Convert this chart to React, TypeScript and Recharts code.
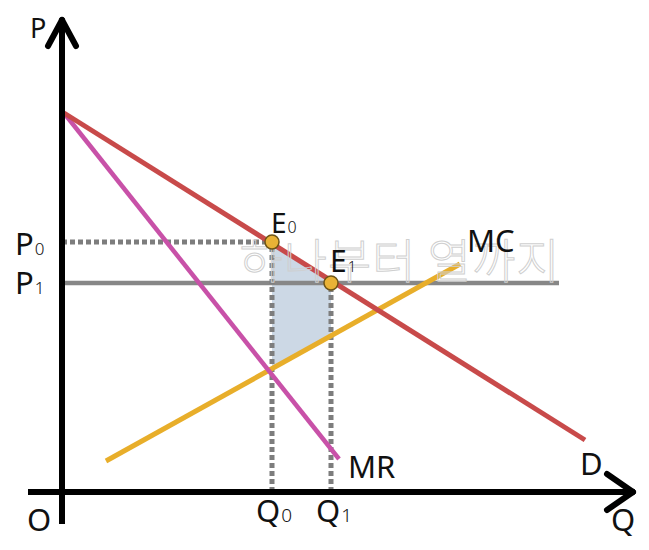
import React from "react";
import { ComposedChart, Line, Area, XAxis, YAxis, ReferenceDot, ReferenceLine } from "recharts";

// Quantity (Q) / Price (P) in diagram units
const Q0 = 21.0;
const Q1 = 26.9;
const P0 = 25.0;
const P1 = 20.9;
const MC_AT_Q0 = 12.3;
const MC_AT_Q1 = 15.6;

const demandLine = [{ q: 0.2, p: 37.9 }, { q: 52.3, p: 5.2 }];
const mrLine = [{ q: 0.2, p: 37.9 }, { q: 27.7, p: 3.3 }];
const mcLine = [{ q: 4.4, p: 3.1 }, { q: 39.8, p: 22.8 }];
const p1Line = [{ q: 0, p: P1 }, { q: 49.7, p: P1 }];
const p0Dotted = [{ q: 0, p: P0 }, { q: Q0, p: P0 }];
const q0Dotted = [{ q: Q0, p: 0 }, { q: Q0, p: P0 }];
const q1Dotted = [{ q: Q1, p: 0 }, { q: Q1, p: P1 }];
const lossArea = [
  { q: Q0, range: [MC_AT_Q0, P0] },
  { q: Q1, range: [MC_AT_Q1, P1] },
];

// axes with chevron arrowheads: [from, to] segments
const axisSegments = [
  [{ x: -3.4, y: 0 }, { x: 57.0, y: 0 }],
  [{ x: 0, y: -3.2 }, { x: 0, y: 47.1 }],
  [{ x: 54.5, y: 1.8 }, { x: 57.1, y: 0 }],
  [{ x: 54.5, y: -1.8 }, { x: 57.1, y: 0 }],
  [{ x: -1.4, y: 44.6 }, { x: 0, y: 47.2 }],
  [{ x: 1.4, y: 44.6 }, { x: 0, y: 47.2 }],
];

const equilibria = [
  { q: Q0, p: P0 },
  { q: Q1, p: P1 },
];

type Lbl = { q: number; p: number; main: string; sub?: string; size: number; subSize?: number };
const labels: Lbl[] = [
  { q: -3.2, p: 45.4, main: "P", size: 27 },
  { q: -4.7, p: 23.7, main: "P", sub: "0", size: 31, subSize: 17 },
  { q: -4.7, p: 19.8, main: "P", sub: "1", size: 31, subSize: 17 },
  { q: -3.5, p: -3.9, main: "O", size: 31 },
  { q: 54.9, p: -3.9, main: "Q", size: 31 },
  { q: 19.4, p: -3.0, main: "Q", sub: "0", size: 31, subSize: 19 },
  { q: 25.4, p: -3.0, main: "Q", sub: "1", size: 31, subSize: 19 },
  { q: 28.6, p: 1.4, main: "MR", size: 31 },
  { q: 51.8, p: 1.7, main: "D", size: 31 },
  { q: 40.5, p: 24.0, main: "MC", size: 31 },
  { q: 20.9, p: 25.9, main: "E", sub: "0", size: 28, subSize: 16 },
  { q: 26.8, p: 22.0, main: "E", sub: "1", size: 30, subSize: 15 },
];

const watermark = { q: 33.8, p: 21.4, text: "하나부터 열까지" };

const FONT = "'Noto Sans', 'DejaVu Sans', sans-serif";

const makeLabel = (l: Lbl) => (props: any) => {
  const vb = props.viewBox || {};
  return (
    <text x={vb.x} y={vb.y} fontFamily={FONT} fontSize={l.size} fill="#111">
      <tspan>{l.main}</tspan>
      {l.sub ? (
        <tspan fontSize={l.subSize} dx={1} fontWeight={300}>
          {l.sub}
        </tspan>
      ) : null}
    </text>
  );
};

const watermarkLabel = (props: any) => {
  const vb = props.viewBox || {};
  return (
    <text
      x={vb.x}
      y={vb.y}
      textAnchor="middle"
      fontFamily="'Noto Sans CJK KR', sans-serif"
      fontSize={47}
      fontWeight={300}
      letterSpacing={1}
      fill="none"
      stroke="#cfcfcf"
      strokeWidth={1}
    >
      {watermark.text}
    </text>
  );
};

const dotted = { stroke: "#7d7d7d", strokeWidth: 5, strokeDasharray: "5 3" };
const noDots = { dot: false, activeDot: false, isAnimationActive: false } as const;

export default function App() {
  return (
    <div style={{ position: "absolute", left: 0, top: 0, width: 649, height: 550, background: "#fff" }}>
      <ComposedChart width={649} height={550} margin={{ top: 0, right: 0, bottom: 0, left: 0 }}>
        <XAxis type="number" dataKey="q" domain={[-6.2, 58.7]} allowDataOverflow hide />
        <YAxis type="number" dataKey="p" domain={[-5.8, 49.2]} allowDataOverflow hide />
        <ReferenceDot x={watermark.q} y={watermark.p} r={0} ifOverflow="visible" label={{ content: watermarkLabel }} />
        <Line data={p1Line} dataKey="p" stroke="#878787" strokeWidth={4.5} {...noDots} />
        <Area
          data={lossArea}
          dataKey="range"
          type="linear"
          stroke="none"
          fill="#7f9dbf"
          fillOpacity={0.4}
          {...noDots}
        />
        <Line data={p0Dotted} dataKey="p" {...dotted} {...noDots} />
        <Line data={q0Dotted} dataKey="p" {...dotted} {...noDots} />
        <Line data={q1Dotted} dataKey="p" {...dotted} {...noDots} />
        <Line data={mcLine} dataKey="p" stroke="#e8ae2a" strokeWidth={5} {...noDots} />
        <Line data={mrLine} dataKey="p" stroke="#c851a8" strokeWidth={4.5} {...noDots} />
        <Line data={demandLine} dataKey="p" stroke="#c84a4a" strokeWidth={5} {...noDots} />
        {axisSegments.map((seg, i) => (
          <ReferenceLine
            key={"ax" + i}
            segment={seg}
            stroke="#000"
            strokeWidth={6}
            strokeLinecap={i < 2 ? "butt" : "round"}
            ifOverflow="visible"
          />
        ))}
        {equilibria.map((e, i) => (
          <ReferenceDot key={"e" + i} x={e.q} y={e.p} r={7} fill="#e9b236" stroke="#6e5416" strokeWidth={1.5} ifOverflow="visible" />
        ))}
        {labels.map((l, i) => (
          <ReferenceDot key={"l" + i} x={l.q} y={l.p} r={0} ifOverflow="visible" label={{ content: makeLabel(l) }} />
        ))}
      </ComposedChart>
    </div>
  );
}
